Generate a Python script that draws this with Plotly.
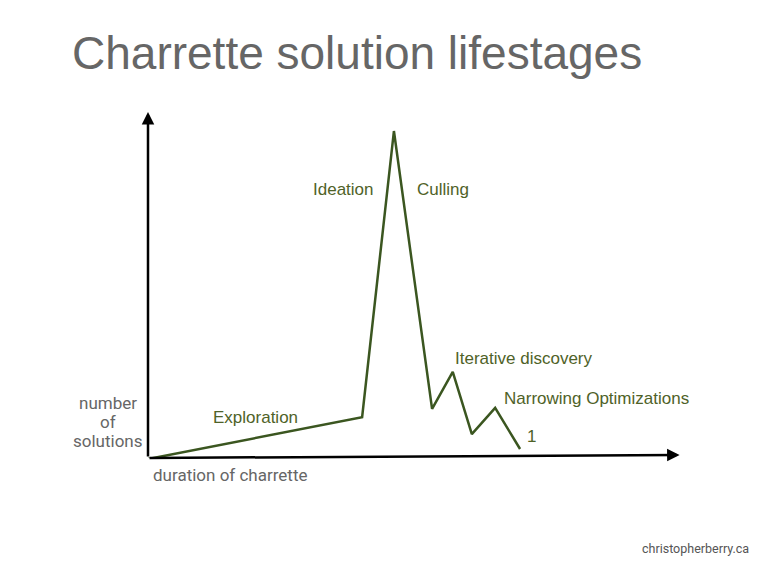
import plotly.graph_objects as go

# Data (x: duration units 0-100, y: number of solutions 0-100)
stage_x = [0, 40.4, 46.4, 53.6, 57.5, 61.1, 65.5, 70.2]
stage_y = [-0.3, 11.8, 94.5, 14.2, 24.9, 6.9, 14.5, 2.6]

label_text = ["Exploration", "Ideation", "Culling", "Iterative discovery", "Narrowing Optimizations", "1"]
label_x = [20.2, 36.8, 55.7, 57.6, 66.8, 72.4]
label_y = [11.8, 77.5, 77.5, 28.9, 17.3, 6.1]
label_anchor = ["center", "center", "center", "left", "left", "center"]

title_text = "Charrette solution lifestages"
x_label = "duration of charrette"
y_label_lines = ["number", "of", "solutions"]
credit = "christopherberry.ca"

GREEN = "#4F6228"
LINE = "#3B5620"
GREY = "#666666"

# page body has an 8px margin; compensate
OFF = 8
W, H = 759, 565
L, T = 148 - OFF, 112 - OFF
R = W - (678 - OFF)
B = H - (458 - OFF)
pw, ph = W - L - R, H - T - B


def px(x, y):
    """reference-pixel position -> paper coords"""
    return (x - OFF - L) / pw, (H - B - (y - OFF)) / ph


fig = go.Figure()
fig.add_trace(go.Scatter(x=stage_x, y=stage_y, mode="lines",
                         line=dict(color=LINE, width=2.5), hoverinfo="skip",
                         cliponaxis=False))

ann = []
# axis arrows
ann.append(dict(x=100.3, y=0.9, ax=0, ay=0, xref="x", yref="y", axref="x", ayref="y",
                text="", showarrow=True, arrowhead=2, arrowsize=1, arrowwidth=2.5,
                arrowcolor="black"))
ann.append(dict(x=0, y=100, ax=0, ay=0, xref="x", yref="y", axref="x", ayref="y",
                text="", showarrow=True, arrowhead=2, arrowsize=1, arrowwidth=2.5,
                arrowcolor="black"))

for t, x, y, a in zip(label_text, label_x, label_y, label_anchor):
    ann.append(dict(x=x, y=y, xref="x", yref="y", text=t, showarrow=False,
                    xanchor=a, yanchor="middle",
                    font=dict(family="Liberation Sans, Arial, sans-serif", size=17, color=GREEN)))

for i, line in enumerate(y_label_lines):
    x0, y0 = px(108, 403 + 19 * i)
    ann.append(dict(x=x0, y=y0, xref="paper", yref="paper", text=line, showarrow=False,
                    xanchor="center", yanchor="middle",
                    font=dict(family="Roboto, sans-serif", size=17, color=GREY)))
x0, y0 = px(151, 475)
ann.append(dict(x=x0, y=y0, xref="paper", yref="paper", text=x_label, showarrow=False,
                xanchor="left", yanchor="middle",
                font=dict(family="Roboto, sans-serif", size=17, color=GREY)))
x0, y0 = px(70, 53)
ann.append(dict(x=x0, y=y0, xref="paper", yref="paper", text=title_text, showarrow=False,
                xanchor="left", yanchor="middle",
                font=dict(family="Liberation Sans, Arial, sans-serif", size=46, color=GREY)))
x0, y0 = px(751, 548)
ann.append(dict(x=x0, y=y0, xref="paper", yref="paper", text=credit, showarrow=False,
                xanchor="right", yanchor="middle",
                font=dict(family="Roboto, sans-serif", size=12.5, color="#555555")))

fig.update_layout(
    width=W, height=H,
    margin=dict(l=L, r=R, t=T, b=B),
    paper_bgcolor="white", plot_bgcolor="white",
    showlegend=False,
    xaxis=dict(range=[0, 100], visible=False, fixedrange=True),
    yaxis=dict(range=[0, 100], visible=False, fixedrange=True),
    annotations=ann,
)

fig.write_html("out.html")
